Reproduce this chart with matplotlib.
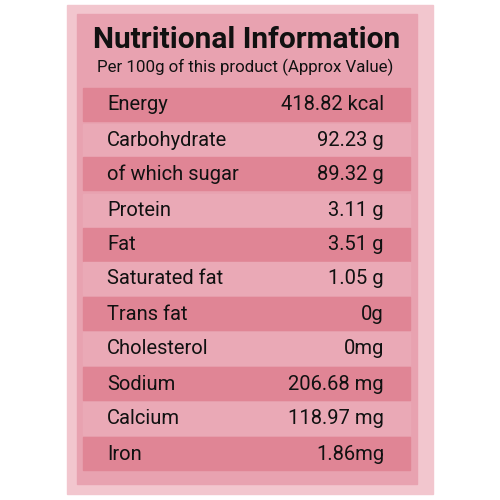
import matplotlib.pyplot as plt
from matplotlib.patches import Rectangle

title = 'Nutritional Information'
subtitle = 'Per 100g of this product (Approx Value)'
nutrients = ['Energy', 'Carbohydrate', 'of which sugar', 'Protein', 'Fat',
             'Saturated fat', 'Trans fat', 'Cholesterol', 'Sodium', 'Calcium', 'Iron']
amounts = ['418.82 kcal', '92.23 g', '89.32 g', '3.11 g', '3.51 g',
           '1.05 g', '0g', '0mg', '206.68 mg', '118.97 mg', '1.86mg']
row_centers = [105, 141, 174, 211, 245, 279, 314, 349, 384, 419, 454]
shaded = [True, False, True, False, True, False, True, False, True, False, True]

plt.rcParams['font.family'] = ['Roboto', 'DejaVu Sans']
fig = plt.figure(figsize=(5, 5), dpi=100)
ax = fig.add_axes([0, 0, 1, 1])
ax.set_xlim(0, 500)
ax.set_ylim(500, 0)
ax.axis('off')

ax.add_patch(Rectangle((67, 5), 366, 489, color='#f2c6ce'))
ax.add_patch(Rectangle((77, 14), 340, 470, color='#e8a2b0'))

for name, val, yc, dark in zip(nutrients, amounts, row_centers, shaded):
    ax.add_patch(Rectangle((83, yc - 17), 327, 33,
                           color='#e08595' if dark else '#eaa9b6'))
    ax.text(107, yc, name, fontsize=14.5, va='center', ha='left', color='#111111')
    ax.text(384, yc, val, fontsize=14.5, va='center', ha='right', color='#111111')

ax.text(247, 40, title, fontsize=21.5, fontweight='bold', ha='center', va='center', color='#111111')
ax.text(245, 67, subtitle, fontsize=12.2, ha='center', va='center', color='#111111')

fig.savefig('out.png')
